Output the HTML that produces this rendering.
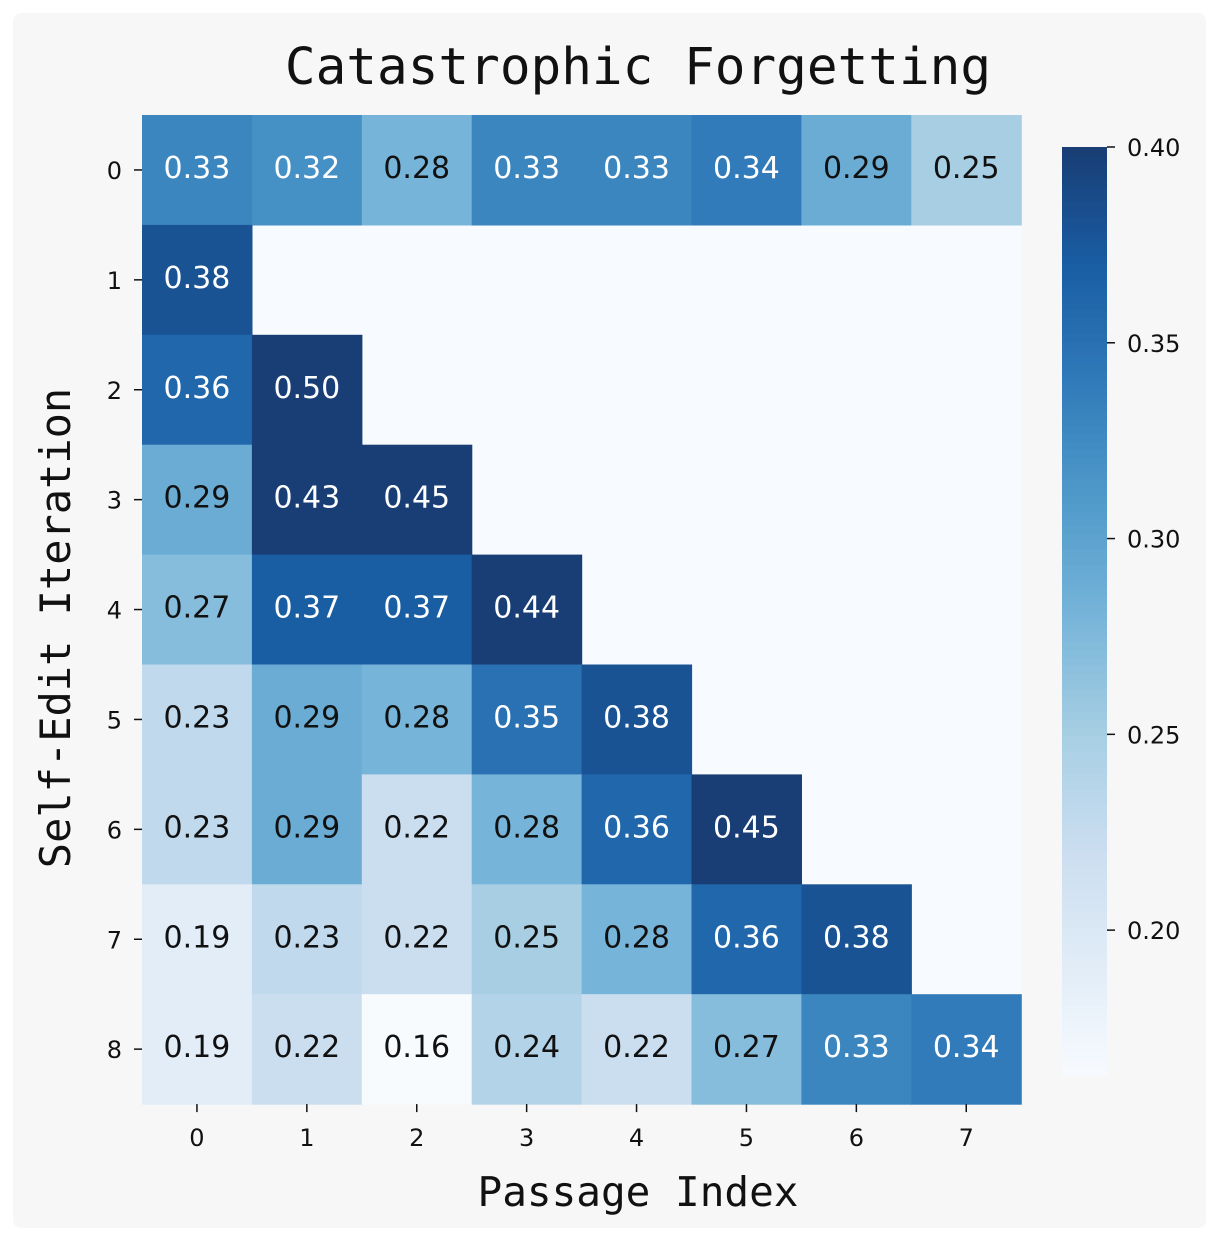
<!DOCTYPE html>
<html><head><meta charset="utf-8"><style>
body{margin:0;background:#fff;width:1230px;height:1254px;overflow:hidden}
</style></head><body>
<svg id="chart" width="1230" height="1254" xmlns="http://www.w3.org/2000/svg">
<rect x="13" y="13" width="1193" height="1215" rx="8" fill="#f7f7f7"/>
<text x="638" y="84" text-anchor="middle" font-family="'DejaVu Sans Mono','Liberation Mono',monospace" font-size="51" fill="#111">Catastrophic Forgetting</text>
<text x="638" y="1206" text-anchor="middle" font-family="'DejaVu Sans Mono','Liberation Mono',monospace" font-size="41" fill="#111">Passage Index</text>
<text transform="translate(70,628) rotate(-90)" text-anchor="middle" font-family="'DejaVu Sans Mono','Liberation Mono',monospace" font-size="42" fill="#111">Self-Edit Iteration</text>
<g id="cells"></g>
<g id="cbar"></g>
</svg>
<script>
const xCategories=[0,1,2,3,4,5,6,7];
const yCategories=[0,1,2,3,4,5,6,7,8];
const values=[
[0.33,0.32,0.28,0.33,0.33,0.34,0.29,0.25],
[0.38,null,null,null,null,null,null,null],
[0.36,0.50,null,null,null,null,null,null],
[0.29,0.43,0.45,null,null,null,null,null],
[0.27,0.37,0.37,0.44,null,null,null,null],
[0.23,0.29,0.28,0.35,0.38,null,null,null],
[0.23,0.29,0.22,0.28,0.36,0.45,null,null],
[0.19,0.23,0.22,0.25,0.28,0.36,0.38,null],
[0.19,0.22,0.16,0.24,0.22,0.27,0.33,0.34]];
const cbarTicks=[0.20,0.25,0.30,0.35,0.40];
const vmin=0.163, vmax=0.40;
const stops=["#f7fbff","#deebf7","#c6dbef","#9ecae1","#6baed6","#4292c6","#2171b5","#08519c","#08306b"];
function hex(h){return [1,3,5].map(i=>parseInt(h.substr(i,2),16));}
function color(v){
  let t=Math.max(0,Math.min(1,(v-vmin)/(vmax-vmin)))*8;
  let i=Math.min(7,Math.floor(t)),f=t-i;
  let a=hex(stops[i]),b=hex(stops[i+1]);
  let c=a.map((x,k)=>x+(b[k]-x)*f);
  c=c.map(x=>Math.round(x*0.93+247*0.07));
  return `rgb(${c[0]},${c[1]},${c[2]})`;
}
const NS="http://www.w3.org/2000/svg";
const X0=142,Y0=115,CW=109.9,CH=109.9;
const xs=i=>X0+i*CW, ys=j=>Y0+j*CH;
const g=document.getElementById('cells');
function el(tag,attrs,parent){const e=document.createElementNS(NS,tag);for(const k in attrs)e.setAttribute(k,attrs[k]);parent.appendChild(e);return e;}
const bg=el('rect',{x:X0,y:Y0,width:CW*8,height:CH*9,fill:"#f7fbff"},g);


yCategories.forEach((yc,j)=>{
  xCategories.forEach((xc,i)=>{
    const v=values[j][i];
    if(v===null)return;
    const r=el('rect',{x:xs(i),y:ys(j),width:CW+0.6,height:CH+0.6,fill:color(v)},g);
    
    
    const t=el('text',{x:xs(i)+CW/2,y:ys(j)+CH/2+8,'text-anchor':'middle','font-family':"'DejaVu Sans','Liberation Sans',sans-serif",'font-size':30,fill:v>=0.30?'#fff':'#111'},g);
    t.textContent=v.toFixed(2);
    
    
  });
});
xCategories.forEach((xc,i)=>{
  const l=el('line',{x1:xs(i)+CW/2,x2:xs(i)+CW/2,y1:Y0+CH*9,y2:Y0+CH*9+8,stroke:'#111','stroke-width':1.5},g);
  
  
  const t=el('text',{x:xs(i)+CW/2,y:1146,'text-anchor':'middle','font-family':"'DejaVu Sans','Liberation Sans',sans-serif",'font-size':24,fill:'#111'},g);
  t.textContent=xc;
  
  
});
yCategories.forEach((yc,j)=>{
  const l=el('line',{x1:X0-8,x2:X0,y1:ys(j)+CH/2,y2:ys(j)+CH/2,stroke:'#111','stroke-width':1.5},g);
  
  
  const t=el('text',{x:X0-20,y:ys(j)+CH/2+9,'text-anchor':'end','font-family':"'DejaVu Sans','Liberation Sans',sans-serif",'font-size':24,fill:'#111'},g);
  t.textContent=yc;
  
  
});
const cb=document.getElementById('cbar');
const CBX=1062,CBW=45,CBT=147,CBB=1075;
const cy=v=>CBB-(v-vmin)/(vmax-vmin)*(CBB-CBT);
const N=120;
for(let k=0;k<N;k++){
  const v=vmin+(vmax-vmin)*(k+0.5)/N;
  const y1=CBB-(k+1)*(CBB-CBT)/N;
  const r=el('rect',{x:CBX,y:y1,width:CBW,height:(CBB-CBT)/N+0.8,fill:color(v)},cb);
  
  
}
cbarTicks.forEach(v=>{
  const l=el('line',{x1:CBX+CBW,x2:CBX+CBW+8,y1:cy(v),y2:cy(v),stroke:'#111','stroke-width':1.5},cb);
  
  
  const t=el('text',{x:CBX+CBW+20,y:cy(v)+9,'font-family':"'DejaVu Sans','Liberation Sans',sans-serif",'font-size':24,fill:'#111'},cb);
  t.textContent=v.toFixed(2);
  
  
});
</script>
</body></html>
